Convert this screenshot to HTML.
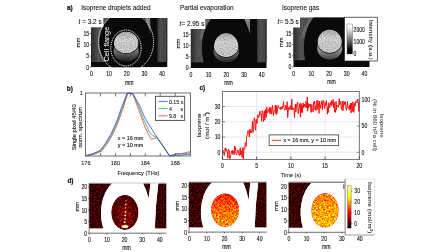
<!DOCTYPE html>
<html><head><meta charset="utf-8"><title>Isoprene imaging figure</title>
<style>
html,body{margin:0;padding:0;background:#fff;}
body{width:448px;height:252px;overflow:hidden;}
svg{display:block;}
text{font-family:"Liberation Sans",sans-serif;fill:#111;stroke:#111;stroke-width:0.12px;}
</style></head><body>
<svg width="448" height="252" viewBox="0 0 448 252">
<defs>
<filter id="gn" x="0" y="0" width="100%" height="100%" color-interpolation-filters="sRGB">
  <feTurbulence type="fractalNoise" baseFrequency="0.7" numOctaves="2" seed="4" result="t"/>
  <feColorMatrix in="t" type="matrix" values="1 0 0 0 0  1 0 0 0 0  1 0 0 0 0  0 0 0 0 1" result="g"/>
  <feComposite in="SourceGraphic" in2="g" operator="arithmetic" k1="0.5" k2="0.75" k3="0" k4="0" result="m"/>
  <feComposite in="m" in2="SourceGraphic" operator="in"/>
</filter>
<filter id="bn" x="0" y="0" width="100%" height="100%" color-interpolation-filters="sRGB">
  <feTurbulence type="fractalNoise" baseFrequency="0.85" numOctaves="2" seed="9" result="t"/>
  <feColorMatrix in="t" type="matrix" values="1 0 0 0 0  1 0 0 0 0  1 0 0 0 0  0 0 0 0 1" result="g"/>
  <feComposite in="SourceGraphic" in2="g" operator="arithmetic" k1="0.55" k2="0.74" k3="0" k4="0" result="m"/>
  <feComposite in="m" in2="SourceGraphic" operator="in"/>
</filter>
<filter id="hotd" x="0" y="0" width="100%" height="100%" color-interpolation-filters="sRGB">
  <feTurbulence type="fractalNoise" baseFrequency="0.65" numOctaves="2" seed="12" result="t"/>
  <feColorMatrix in="t" type="matrix" values="1 0 0 0 0  1 0 0 0 0  1 0 0 0 0  0 0 0 0 1" result="g"/>
  <feComposite in="SourceGraphic" in2="g" operator="arithmetic" k1="0" k2="1" k3="0.38" k4="-0.19" result="v"/>
  <feComponentTransfer in="v" result="c">
    <feFuncR type="table" tableValues="0 0.33 0.67 1 1 1 1 1 1"/>
    <feFuncG type="table" tableValues="0 0 0 0 0.33 0.67 1 1 1"/>
    <feFuncB type="table" tableValues="0 0 0 0 0 0 0 0.5 1"/>
  </feComponentTransfer>
  <feComposite in="c" in2="SourceGraphic" operator="in"/>
</filter>
<filter id="hotb" x="0" y="0" width="100%" height="100%" color-interpolation-filters="sRGB">
  <feTurbulence type="fractalNoise" baseFrequency="0.55" numOctaves="2" seed="21" result="t"/>
  <feColorMatrix in="t" type="matrix" values="1 0 0 0 0  1 0 0 0 0  1 0 0 0 0  0 0 0 0 1" result="g"/>
  <feComposite in="SourceGraphic" in2="g" operator="arithmetic" k1="0" k2="1" k3="0.62" k4="-0.31" result="v"/>
  <feComponentTransfer in="v" result="c">
    <feFuncR type="table" tableValues="0 0.33 0.67 1 1 1 1 1 1"/>
    <feFuncG type="table" tableValues="0 0 0 0 0.33 0.67 1 1 1"/>
    <feFuncB type="table" tableValues="0 0 0 0 0 0 0 0.5 1"/>
  </feComponentTransfer>
  <feComposite in="c" in2="SourceGraphic" operator="in"/>
</filter>
<linearGradient id="gbar" x1="0" y1="0" x2="0" y2="1"><stop offset="0.1" stop-color="#fff"/><stop offset="0.88" stop-color="#000"/></linearGradient>
<linearGradient id="hbar" x1="0" y1="1" x2="0" y2="0">
  <stop offset="0" stop-color="#000"/><stop offset="0.375" stop-color="#f00"/><stop offset="0.75" stop-color="#ff0"/><stop offset="1" stop-color="#ffff90"/>
</linearGradient>
<linearGradient id="blobg" x1="0" y1="0" x2="0" y2="1"><stop offset="0" stop-color="#a0a0a0"/><stop offset="0.35" stop-color="#c6c6c6"/><stop offset="1" stop-color="#bcbcbc"/></linearGradient>
<linearGradient id="rimg" x1="0" y1="0" x2="0" y2="1"><stop offset="0.5" stop-color="#7a7a7a"/><stop offset="0.8" stop-color="#444"/><stop offset="1" stop-color="#222"/></linearGradient>
<linearGradient id="lg" x1="0" y1="0" x2="1" y2="0"><stop offset="0" stop-color="#2a2a2a"/><stop offset="0.25" stop-color="#525252"/><stop offset="1" stop-color="#464646"/></linearGradient>
<linearGradient id="rg" x1="0" y1="0" x2="1" y2="0"><stop offset="0" stop-color="#303030"/><stop offset="0.3" stop-color="#4e4e4e"/><stop offset="0.85" stop-color="#424242"/><stop offset="1" stop-color="#1c1c1c"/></linearGradient>
<linearGradient id="sg" x1="0" y1="0" x2="0" y2="1"><stop offset="0" stop-color="#8a8a8a"/><stop offset="1" stop-color="#4a4a4a"/></linearGradient>
</defs>

<text x="67" y="9.7" font-size="6.5" text-anchor="start" font-weight="bold" style="stroke-width:0.2px">a)</text>
<text x="81.3" y="10.0" font-size="6.43" text-anchor="start" style="stroke-width:0.08px">Isoprene droplets added</text>
<text x="180" y="10.0" font-size="6.43" text-anchor="start" style="stroke-width:0.08px">Partial evaporation</text>
<text x="282" y="10.0" font-size="6.43" text-anchor="start" style="stroke-width:0.08px">Isoprene gas</text>
<clipPath id="ca1"><rect x="91" y="18" width="76.5" height="49.3"/></clipPath>
<clipPath id="tl1"><rect x="91" y="18" width="30" height="20"/></clipPath>
<g clip-path="url(#ca1)">
<rect x="91" y="18" width="76.5" height="49.3" fill="#0a0a0a"/>
<g filter="url(#gn)">
<rect x="91" y="18" width="30" height="44" fill="url(#lg)"/>
<rect x="157.2" y="18" width="10.299999999999997" height="44" fill="url(#rg)"/>
</g>
<ellipse cx="126" cy="42" rx="26.5" ry="30.5" fill="#0a0a0a"/>
<path d="M144.6,18 L150.4,18 L150.9,35 Q148.0,26 144.6,18 Z" fill="url(#sg)" filter="url(#gn)"/>
<defs><linearGradient id="rim1" gradientUnits="userSpaceOnUse" x1="0" y1="50.5" x2="0" y2="61.7"><stop offset="0" stop-color="#747474"/><stop offset="1" stop-color="#1c1c1c"/></linearGradient></defs>
<path d="M113.6,51.7 A12.6,11.9 0 0 1 138.8,51.7 A12.6,10.0 0 0 1 113.6,51.7 Z" fill="url(#rim1)"/>
<path d="M113.9,44.3 A12.3,11.9 0 0 1 138.5,44.3 A12.3,10.0 0 0 1 113.9,44.3 Z" fill="#202020"/>
<g filter="url(#bn)">
<path d="M113.9,43.5 A12.3,11.9 0 0 1 138.5,43.5 A12.3,10.0 0 0 1 113.9,43.5 Z" fill="url(#blobg)"/>
</g>
<ellipse cx="126" cy="42" rx="27.6" ry="30" fill="none" stroke="#fff" stroke-width="1" stroke-dasharray="1.1 0.8"/>
<ellipse cx="126" cy="48" rx="15.2" ry="18" fill="none" stroke="#fff" stroke-width="1" stroke-dasharray="1.1 0.8"/>
<text transform="translate(109.2,61.6) rotate(-90)" font-size="7.4" style="fill:#fff;stroke:none">Cell flange</text>
</g>
<rect x="78" y="16" width="25.299999999999997" height="11.3" fill="#fff"/>
<text transform="translate(78.6,24.2) scale(0.93,1)" font-size="6.9" style="stroke-width:0.1px"><tspan font-style="italic">t</tspan> = 3.2 s</text>
<line x1="89.7" y1="67.3" x2="91" y2="67.3" stroke="#222" stroke-width="0.6"/>
<text transform="translate(89.1,69.5) scale(0.8,1)" font-size="6.4" text-anchor="end">0</text>
<line x1="89.7" y1="56.1" x2="91" y2="56.1" stroke="#222" stroke-width="0.6"/>
<text transform="translate(89.1,58.3) scale(0.8,1)" font-size="6.4" text-anchor="end">5</text>
<line x1="89.7" y1="44.8" x2="91" y2="44.8" stroke="#222" stroke-width="0.6"/>
<text transform="translate(89.1,47.0) scale(0.8,1)" font-size="6.4" text-anchor="end">10</text>
<line x1="89.7" y1="33.6" x2="91" y2="33.6" stroke="#222" stroke-width="0.6"/>
<text transform="translate(89.1,35.8) scale(0.8,1)" font-size="6.4" text-anchor="end">15</text>
<text transform="translate(91.3,76.3) scale(0.8,1)" font-size="6.4" text-anchor="middle">0</text>
<text transform="translate(109.0,76.3) scale(0.8,1)" font-size="6.4" text-anchor="middle">10</text>
<text transform="translate(126.7,76.3) scale(0.8,1)" font-size="6.4" text-anchor="middle">20</text>
<text transform="translate(144.4,76.3) scale(0.8,1)" font-size="6.4" text-anchor="middle">30</text>
<text transform="translate(162.1,76.3) scale(0.8,1)" font-size="6.4" text-anchor="middle">40</text>
<text transform="translate(129.2,84.7) scale(0.8,1)" font-size="6.4" text-anchor="middle">mm</text>
<text transform="translate(80.4,42.6) rotate(-90)" font-size="5.9" text-anchor="middle">mm</text>
<clipPath id="ca2"><rect x="190.6" y="19" width="76.1" height="49"/></clipPath>
<clipPath id="tl2"><rect x="190.6" y="19" width="30" height="20"/></clipPath>
<g clip-path="url(#ca2)">
<rect x="190.6" y="19" width="76.1" height="49" fill="#0a0a0a"/>
<g filter="url(#gn)">
<rect x="190.6" y="19" width="30" height="43.6" fill="url(#lg)"/>
<rect x="256.8" y="19" width="9.899999999999991" height="43.6" fill="url(#rg)"/>
<ellipse cx="226.4" cy="48" rx="26.1" ry="38.5" fill="none" stroke="#686868" stroke-width="3" clip-path="url(#tl2)"/>
</g>
<ellipse cx="226.4" cy="48" rx="24.6" ry="37" fill="#0a0a0a"/>
<path d="M244.2,19 L250.0,19 L250.5,36 Q247.6,27 244.2,19 Z" fill="url(#sg)" filter="url(#gn)"/>
<defs><linearGradient id="rim2" gradientUnits="userSpaceOnUse" x1="0" y1="54.0" x2="0" y2="62.2"><stop offset="0" stop-color="#606060"/><stop offset="1" stop-color="#262626"/></linearGradient></defs>
<path d="M213.6,51.7 A12.6,13.6 0 0 1 238.8,51.7 A12.6,10.5 0 0 1 213.6,51.7 Z" fill="url(#rim2)"/>
<path d="M213.9,47.3 A12.3,13.6 0 0 1 238.5,47.3 A12.3,10.5 0 0 1 213.9,47.3 Z" fill="#202020"/>
<g filter="url(#bn)">
<path d="M213.9,46.5 A12.3,13.6 0 0 1 238.5,46.5 A12.3,10.5 0 0 1 213.9,46.5 Z" fill="url(#blobg)"/>
</g>
</g>
<rect x="179" y="17" width="26.30000000000001" height="12" fill="#fff"/>
<text transform="translate(179.6,25.9) scale(0.93,1)" font-size="6.9" style="stroke-width:0.1px"><tspan font-style="italic">t</tspan>= 2.95 s</text>
<line x1="189.29999999999998" y1="68.0" x2="190.6" y2="68.0" stroke="#222" stroke-width="0.6"/>
<text transform="translate(188.7,70.2) scale(0.8,1)" font-size="6.4" text-anchor="end">0</text>
<line x1="189.29999999999998" y1="56.8" x2="190.6" y2="56.8" stroke="#222" stroke-width="0.6"/>
<text transform="translate(188.7,59.0) scale(0.8,1)" font-size="6.4" text-anchor="end">5</text>
<line x1="189.29999999999998" y1="45.5" x2="190.6" y2="45.5" stroke="#222" stroke-width="0.6"/>
<text transform="translate(188.7,47.8) scale(0.8,1)" font-size="6.4" text-anchor="end">10</text>
<line x1="189.29999999999998" y1="34.3" x2="190.6" y2="34.3" stroke="#222" stroke-width="0.6"/>
<text transform="translate(188.7,36.5) scale(0.8,1)" font-size="6.4" text-anchor="end">15</text>
<text transform="translate(190.9,77.0) scale(0.8,1)" font-size="6.4" text-anchor="middle">0</text>
<text transform="translate(208.6,77.0) scale(0.8,1)" font-size="6.4" text-anchor="middle">10</text>
<text transform="translate(226.3,77.0) scale(0.8,1)" font-size="6.4" text-anchor="middle">20</text>
<text transform="translate(244.0,77.0) scale(0.8,1)" font-size="6.4" text-anchor="middle">30</text>
<text transform="translate(261.7,77.0) scale(0.8,1)" font-size="6.4" text-anchor="middle">40</text>
<text transform="translate(228.6,85.4) scale(0.8,1)" font-size="6.4" text-anchor="middle">mm</text>
<text transform="translate(180.0,43.5) rotate(-90)" font-size="5.9" text-anchor="middle">mm</text>
<clipPath id="ca3"><rect x="293.3" y="17.5" width="76.39999999999998" height="49.5"/></clipPath>
<clipPath id="tl3"><rect x="293.3" y="17.5" width="30" height="20"/></clipPath>
<g clip-path="url(#ca3)">
<rect x="293.3" y="17.5" width="76.39999999999998" height="49.5" fill="#0a0a0a"/>
<g filter="url(#gn)">
<rect x="293.3" y="17.5" width="30" height="43.0" fill="url(#lg)"/>
<ellipse cx="329" cy="48" rx="26.7" ry="40.0" fill="none" stroke="#686868" stroke-width="3" clip-path="url(#tl3)"/>
</g>
<ellipse cx="329" cy="48" rx="25.2" ry="38.5" fill="#0a0a0a"/>
<defs><linearGradient id="rim3" gradientUnits="userSpaceOnUse" x1="0" y1="50.0" x2="0" y2="59.4"><stop offset="0" stop-color="#909090"/><stop offset="1" stop-color="#444"/></linearGradient></defs>
<path d="M317.2,48.4 A12.5,12.4 0 0 1 342.2,48.4 A12.5,11.0 0 0 1 317.2,48.4 Z" fill="url(#rim3)"/>
<path d="M317.5,42.8 A12.2,12.4 0 0 1 341.9,42.8 A12.2,11.0 0 0 1 317.5,42.8 Z" fill="#202020"/>
<g filter="url(#bn)">
<path d="M317.5,42.0 A12.2,12.4 0 0 1 341.9,42.0 A12.2,11.0 0 0 1 317.5,42.0 Z" fill="url(#blobg)"/>
</g>
</g>
<rect x="277" y="15.5" width="23" height="12.0" fill="#fff"/>
<text transform="translate(277.6,24.4) scale(0.93,1)" font-size="6.9" style="stroke-width:0.1px"><tspan font-style="italic">t</tspan>= 5.5 s</text>
<line x1="292.0" y1="67.0" x2="293.3" y2="67.0" stroke="#222" stroke-width="0.6"/>
<text transform="translate(291.4,69.2) scale(0.8,1)" font-size="6.4" text-anchor="end">0</text>
<line x1="292.0" y1="55.8" x2="293.3" y2="55.8" stroke="#222" stroke-width="0.6"/>
<text transform="translate(291.4,58.0) scale(0.8,1)" font-size="6.4" text-anchor="end">5</text>
<line x1="292.0" y1="44.5" x2="293.3" y2="44.5" stroke="#222" stroke-width="0.6"/>
<text transform="translate(291.4,46.8) scale(0.8,1)" font-size="6.4" text-anchor="end">10</text>
<line x1="292.0" y1="33.3" x2="293.3" y2="33.3" stroke="#222" stroke-width="0.6"/>
<text transform="translate(291.4,35.5) scale(0.8,1)" font-size="6.4" text-anchor="end">15</text>
<text transform="translate(293.6,76.0) scale(0.8,1)" font-size="6.4" text-anchor="middle">0</text>
<text transform="translate(311.3,76.0) scale(0.8,1)" font-size="6.4" text-anchor="middle">10</text>
<text transform="translate(329.0,76.0) scale(0.8,1)" font-size="6.4" text-anchor="middle">20</text>
<text transform="translate(346.7,76.0) scale(0.8,1)" font-size="6.4" text-anchor="middle">30</text>
<text transform="translate(364.4,76.0) scale(0.8,1)" font-size="6.4" text-anchor="middle">40</text>
<text transform="translate(331.5,84.4) scale(0.8,1)" font-size="6.4" text-anchor="middle">mm</text>
<text transform="translate(282.7,42.2) rotate(-90)" font-size="5.9" text-anchor="middle">mm</text>
<rect x="344.5" y="17.2" width="32.8" height="43.8" fill="#fff" stroke="#222" stroke-width="0.7"/>
<rect x="347" y="24" width="5.5" height="30" fill="url(#gbar)" stroke="#555" stroke-width="0.4"/>
<text transform="translate(353.6,32.4) scale(0.8,1)" font-size="6.4" text-anchor="start">2000</text>
<text transform="translate(353.6,43.9) scale(0.8,1)" font-size="6.4" text-anchor="start">1000</text>
<text transform="translate(353.6,56.2) scale(0.8,1)" font-size="6.4" text-anchor="start">0</text>
<text transform="translate(369.3,19.4) rotate(90)" font-size="5.9" letter-spacing="0.2" style="stroke-width:0.05px">Intensity (a.u.)</text>
<text x="66.8" y="91.0" font-size="6.5" text-anchor="start" font-weight="bold" style="stroke-width:0.2px">b)</text>
<rect x="85.6" y="93" width="104.80000000000001" height="63" fill="#fff" stroke="#333" stroke-width="0.7"/>
<line x1="100.5" y1="93" x2="100.5" y2="96.4" stroke="#222" stroke-width="0.6"/>
<line x1="100.5" y1="156" x2="100.5" y2="153.0" stroke="#222" stroke-width="0.6"/>
<line x1="115.5" y1="93" x2="115.5" y2="96.4" stroke="#222" stroke-width="0.6"/>
<line x1="115.5" y1="156" x2="115.5" y2="153.0" stroke="#222" stroke-width="0.6"/>
<line x1="130.4" y1="93" x2="130.4" y2="96.4" stroke="#222" stroke-width="0.6"/>
<line x1="130.4" y1="156" x2="130.4" y2="153.0" stroke="#222" stroke-width="0.6"/>
<line x1="145.3" y1="93" x2="145.3" y2="96.4" stroke="#222" stroke-width="0.6"/>
<line x1="145.3" y1="156" x2="145.3" y2="153.0" stroke="#222" stroke-width="0.6"/>
<line x1="160.2" y1="93" x2="160.2" y2="96.4" stroke="#222" stroke-width="0.6"/>
<line x1="160.2" y1="156" x2="160.2" y2="153.0" stroke="#222" stroke-width="0.6"/>
<line x1="175.2" y1="93" x2="175.2" y2="96.4" stroke="#222" stroke-width="0.6"/>
<line x1="175.2" y1="156" x2="175.2" y2="153.0" stroke="#222" stroke-width="0.6"/>
<text x="85.9" y="165.4" font-size="5.5" text-anchor="middle" style="stroke-width:0.08px">176</text>
<text x="115.4" y="165.4" font-size="5.5" text-anchor="middle" style="stroke-width:0.08px">180</text>
<text x="145.3" y="165.4" font-size="5.5" text-anchor="middle" style="stroke-width:0.08px">184</text>
<text x="175.2" y="165.4" font-size="5.5" text-anchor="middle" style="stroke-width:0.08px">188</text>
<text x="82.8" y="95.0" font-size="5.5" text-anchor="end" style="stroke-width:0.08px">1</text>
<text x="138.4" y="174.8" font-size="5.6" text-anchor="middle" style="stroke-width:0.06px">Frequency (THz)</text>
<text transform="translate(76.1,127.3) rotate(-90)" font-size="5.85" style="stroke-width:0.08px" text-anchor="middle">Single pixel 45/40</text>
<text transform="translate(81.9,127.3) rotate(-90)" font-size="5.85" style="stroke-width:0.08px" text-anchor="middle">norm. spectrum</text>
<polyline fill="none" stroke="#f03030" stroke-width="0.75" stroke-linejoin="round" points="87.2,156.1 94.6,154.2 101.6,151.1 106.6,144.6 112.6,134.6 118.0,122.6 122.6,109.6 127.8,93.3 130.0,93.3 132.7,94.0 137.3,106.0 141.7,118.0 145.5,128.5 151.2,139.3 157.0,137.6 165.6,150.0 169.4,155.8 175.0,155.2 190.3,151.5"/>
<polyline fill="none" stroke="#20a030" stroke-width="0.75" stroke-linejoin="round" points="86.4,155.8 93.8,153.9 100.8,150.8 105.8,144.3 111.8,134.3 117.2,122.3 121.8,109.3 127.4,93.2 130.0,93.4 132.9,93.6 138.5,106.0 143.0,118.0 149.3,132.0 152.5,135.5 157.0,137.5 165.5,150.0 169.3,155.8 182.0,155.6 190.3,152.3"/>
<polyline fill="none" stroke="#2040ff" stroke-width="0.75" stroke-linejoin="round" points="85.6,155.5 93.0,153.6 100.0,150.5 105.0,144.0 111.0,134.0 116.4,122.0 121.0,109.0 127.0,93.3 130.0,93.2 133.0,94.0 139.9,106.0 144.9,118.0 157.0,137.3 165.8,150.0 169.6,155.8 177.2,153.6 190.3,154.5"/>
<text x="117.8" y="139.6" font-size="5.45" text-anchor="start">x = 16 mm</text>
<text x="117.8" y="147.2" font-size="5.45" text-anchor="start">y = 10 mm</text>
<rect x="155.5" y="96.3" width="29.2" height="24.1" fill="#fff" stroke="#444" stroke-width="0.9"/>
<line x1="158.4" y1="101.4" x2="167.7" y2="101.4" stroke="#2040ff" stroke-width="0.75"/>
<text transform="translate(168.9,103.6) scale(0.86,1)" font-size="6.2" style="stroke-width:0.08px">0.15 s</text>
<line x1="158.4" y1="108.6" x2="167.7" y2="108.6" stroke="#20a030" stroke-width="0.75"/>
<text transform="translate(168.9,110.8) scale(0.86,1)" font-size="6.2" style="stroke-width:0.08px">4</text>
<text transform="translate(180.6,110.8) scale(0.86,1)" font-size="6.2" style="stroke-width:0.08px">s</text>
<line x1="158.4" y1="115.8" x2="167.7" y2="115.8" stroke="#f03030" stroke-width="0.75"/>
<text transform="translate(168.9,118.0) scale(0.86,1)" font-size="6.2" style="stroke-width:0.08px">9.8</text>
<text transform="translate(180.6,118.0) scale(0.86,1)" font-size="6.2" style="stroke-width:0.08px">s</text>
<text x="199.5" y="89.7" font-size="6.5" text-anchor="start" font-weight="bold" style="stroke-width:0.2px">c)</text>
<rect x="222.4" y="91.6" width="136.9" height="67.80000000000001" fill="#fff"/>
<line x1="222.4" y1="152.2" x2="359.3" y2="152.2" stroke="#d4d4f6" stroke-width="0.6"/>
<line x1="222.4" y1="137.0" x2="359.3" y2="137.0" stroke="#d4d4f6" stroke-width="0.6"/>
<line x1="222.4" y1="121.8" x2="359.3" y2="121.8" stroke="#d4d4f6" stroke-width="0.6"/>
<line x1="222.4" y1="106.6" x2="359.3" y2="106.6" stroke="#d4d4f6" stroke-width="0.6"/>
<line x1="256.6" y1="91.6" x2="256.6" y2="159.4" stroke="#d4d4f6" stroke-width="0.6"/>
<line x1="290.9" y1="91.6" x2="290.9" y2="159.4" stroke="#d4d4f6" stroke-width="0.6"/>
<line x1="325.1" y1="91.6" x2="325.1" y2="159.4" stroke="#d4d4f6" stroke-width="0.6"/>
<polyline fill="none" stroke="#ff0000" stroke-width="0.9" stroke-linejoin="round" points="222.4,153.1 222.9,150.3 223.3,153.0 223.8,153.3 224.2,155.6 224.7,153.0 225.1,148.1 225.6,150.7 226.1,148.4 226.5,151.3 227.0,150.8 227.4,151.5 227.9,158.3 228.3,149.1 228.8,150.4 229.2,150.4 229.7,158.4 230.2,158.6 230.6,155.4 231.1,153.9 231.5,151.1 232.0,152.4 232.4,150.3 232.9,154.5 233.4,151.1 233.8,150.8 234.3,154.6 234.7,145.9 235.2,150.2 235.6,147.8 236.1,154.5 236.5,154.9 237.0,153.5 237.5,152.6 237.9,149.9 238.4,151.3 238.8,153.8 239.3,155.7 239.7,154.1 240.2,147.7 240.7,155.1 241.1,151.3 241.6,150.6 242.0,157.6 242.5,152.0 242.9,147.4 243.4,159.0 243.8,150.9 244.3,148.3 244.8,149.1 245.2,142.6 245.7,143.0 246.1,146.6 246.6,136.8 247.0,136.0 247.5,133.6 248.0,130.5 248.4,133.3 248.9,133.0 249.3,137.0 249.8,129.0 250.2,132.5 250.7,130.9 251.1,133.0 251.6,131.0 252.1,128.6 252.5,121.1 253.0,132.5 253.4,129.6 253.9,122.8 254.3,117.7 254.8,120.2 255.3,128.6 255.7,130.3 256.2,119.3 256.6,122.7 257.1,123.6 257.5,115.5 258.0,114.6 258.5,117.6 258.9,116.8 259.4,115.7 259.8,111.1 260.3,114.3 260.7,114.3 261.2,113.9 261.6,121.3 262.1,110.5 262.6,111.4 263.0,112.7 263.5,121.6 263.9,116.4 264.4,110.8 264.8,120.2 265.3,114.0 265.8,109.4 266.2,117.7 266.7,106.9 267.1,110.5 267.6,112.9 268.0,111.0 268.5,109.6 268.9,111.4 269.4,107.5 269.9,113.9 270.3,112.9 270.8,107.4 271.2,111.0 271.7,114.2 272.1,107.4 272.6,105.4 273.1,112.2 273.5,115.5 274.0,110.9 274.4,110.8 274.9,111.3 275.3,105.0 275.8,113.7 276.2,105.3 276.7,114.4 277.2,112.6 277.6,107.4 278.1,105.5 278.5,106.4 279.0,108.2 279.4,108.8 279.9,108.7 280.4,107.1 280.8,109.8 281.3,108.1 281.7,106.9 282.2,109.0 282.6,106.1 283.1,106.8 283.5,101.5 284.0,107.5 284.5,110.2 284.9,110.0 285.4,108.6 285.8,105.2 286.3,109.7 286.7,107.0 287.2,101.7 287.7,117.7 288.1,112.4 288.6,107.4 289.0,106.8 289.5,107.3 289.9,109.7 290.4,105.7 290.9,107.0 291.3,109.9 291.8,99.1 292.2,106.6 292.7,109.9 293.1,108.2 293.6,108.6 294.0,108.0 294.5,117.7 295.0,109.5 295.4,104.0 295.9,111.9 296.3,107.9 296.8,104.1 297.2,104.4 297.7,102.1 298.2,113.7 298.6,108.7 299.1,108.7 299.5,105.1 300.0,103.4 300.4,117.1 300.9,103.3 301.3,112.6 301.8,104.8 302.3,112.7 302.7,106.5 303.2,102.8 303.6,107.7 304.1,106.4 304.5,104.2 305.0,106.5 305.5,107.3 305.9,101.4 306.4,103.1 306.8,108.0 307.3,96.9 307.7,111.1 308.2,103.5 308.6,107.8 309.1,106.3 309.6,104.2 310.0,105.9 310.5,104.4 310.9,112.3 311.4,112.2 311.8,104.4 312.3,110.1 312.8,110.3 313.2,111.9 313.7,101.9 314.1,103.8 314.6,101.1 315.0,109.9 315.5,106.4 315.9,110.5 316.4,103.6 316.9,100.5 317.3,109.6 317.8,100.6 318.2,102.7 318.7,106.9 319.1,113.4 319.6,101.0 320.1,106.5 320.5,108.3 321.0,104.6 321.4,104.6 321.9,100.6 322.3,109.7 322.8,101.9 323.2,100.5 323.7,100.6 324.2,106.6 324.6,108.6 325.1,102.2 325.5,105.4 326.0,105.4 326.4,100.6 326.9,106.7 327.4,114.1 327.8,107.1 328.3,112.5 328.7,102.7 329.2,104.5 329.6,107.8 330.1,105.6 330.6,102.5 331.0,105.2 331.5,100.7 331.9,105.7 332.4,101.7 332.8,100.0 333.3,99.5 333.7,107.8 334.2,102.1 334.7,112.2 335.1,109.3 335.6,112.4 336.0,101.4 336.5,109.7 336.9,105.2 337.4,105.9 337.9,105.3 338.3,107.3 338.8,104.2 339.2,98.5 339.7,104.9 340.1,103.1 340.6,101.3 341.0,105.7 341.5,109.5 342.0,106.9 342.4,101.0 342.9,110.9 343.3,107.0 343.8,101.1 344.2,101.9 344.7,104.7 345.2,101.8 345.6,104.1 346.1,109.0 346.5,110.4 347.0,107.0 347.4,101.3 347.9,106.7 348.3,107.9 348.8,107.4 349.3,110.1 349.7,104.9 350.2,108.8 350.6,103.1 351.1,113.0 351.5,103.2 352.0,106.7 352.5,111.4 352.9,101.7 353.4,105.3 353.8,112.4 354.3,107.4 354.7,103.2 355.2,105.9 355.6,101.3 356.1,101.4 356.6,101.7 357.0,102.9 357.5,99.2 357.9,101.6 358.4,102.4 358.8,111.6 359.3,100.7"/>
<rect x="222.4" y="91.6" width="136.9" height="67.80000000000001" fill="none" stroke="#555" stroke-width="0.8"/>
<line x1="222.4" y1="152.2" x2="225.0" y2="152.2" stroke="#333" stroke-width="0.6"/>
<text transform="translate(220.4,154.5) scale(0.8,1)" font-size="6.4" text-anchor="end">0</text>
<line x1="222.4" y1="137.0" x2="225.0" y2="137.0" stroke="#333" stroke-width="0.6"/>
<text transform="translate(220.4,139.3) scale(0.8,1)" font-size="6.4" text-anchor="end">10</text>
<line x1="222.4" y1="121.8" x2="225.0" y2="121.8" stroke="#333" stroke-width="0.6"/>
<text transform="translate(220.4,124.1) scale(0.8,1)" font-size="6.4" text-anchor="end">20</text>
<line x1="222.4" y1="106.6" x2="225.0" y2="106.6" stroke="#333" stroke-width="0.6"/>
<text transform="translate(220.4,108.9) scale(0.8,1)" font-size="6.4" text-anchor="end">30</text>
<line x1="359.3" y1="99.9" x2="356.7" y2="99.9" stroke="#333" stroke-width="0.6"/>
<text transform="translate(361.6,102.2) scale(0.8,1)" font-size="6.4" text-anchor="start">100</text>
<line x1="359.3" y1="126.1" x2="356.7" y2="126.1" stroke="#333" stroke-width="0.6"/>
<text transform="translate(361.6,128.4) scale(0.8,1)" font-size="6.4" text-anchor="start">50</text>
<line x1="359.3" y1="152.3" x2="356.7" y2="152.3" stroke="#333" stroke-width="0.6"/>
<text transform="translate(361.6,154.6) scale(0.8,1)" font-size="6.4" text-anchor="start">0</text>
<line x1="222.4" y1="159.4" x2="222.4" y2="156.6" stroke="#222" stroke-width="0.7"/>
<text transform="translate(222.4,168.3) scale(0.8,1)" font-size="6.4" text-anchor="middle">0</text>
<line x1="256.6" y1="159.4" x2="256.6" y2="156.6" stroke="#222" stroke-width="0.7"/>
<text transform="translate(256.6,168.3) scale(0.8,1)" font-size="6.4" text-anchor="middle">5</text>
<line x1="290.9" y1="159.4" x2="290.9" y2="156.6" stroke="#222" stroke-width="0.7"/>
<text transform="translate(290.9,168.3) scale(0.8,1)" font-size="6.4" text-anchor="middle">10</text>
<line x1="325.1" y1="159.4" x2="325.1" y2="156.6" stroke="#222" stroke-width="0.7"/>
<text transform="translate(325.1,168.3) scale(0.8,1)" font-size="6.4" text-anchor="middle">15</text>
<line x1="359.3" y1="159.4" x2="359.3" y2="156.6" stroke="#222" stroke-width="0.7"/>
<text transform="translate(359.3,168.3) scale(0.8,1)" font-size="6.4" text-anchor="middle">20</text>
<text x="291" y="177.3" font-size="5.6" text-anchor="middle" style="stroke-width:0.06px">Time (s)</text>
<text transform="translate(201.4,125.5) rotate(-90)" font-size="6.2" style="stroke-width:0.08px" text-anchor="middle">Isoprene</text>
<text transform="translate(208.6,125.5) rotate(-90)" font-size="6.2" style="stroke-width:0.08px" text-anchor="middle">(mol / m<tspan dy="-2.2" font-size="4.2">3</tspan><tspan dy="2.2">)</tspan></text>
<text transform="translate(379.6,113.6) rotate(90)" font-size="6.2" style="stroke:none;fill:#222">Isoprene</text>
<text transform="translate(372.6,99) rotate(90)" font-size="6.2" style="stroke:none;fill:#222">(% in 860 hPa cell)</text>
<rect x="269.1" y="134.9" width="69.6" height="10.8" fill="#fff" stroke="#222" stroke-width="0.7"/>
<line x1="271.7" y1="140.3" x2="281.3" y2="140.3" stroke="#ff0000" stroke-width="0.85"/>
<text x="283.5" y="142.2" font-size="5.3" text-anchor="start">x = 16 mm, y = 10 mm</text>
<text x="67.4" y="182.8" font-size="6.5" text-anchor="start" font-weight="bold" style="stroke-width:0.2px">d)</text>
<clipPath id="cd1"><rect x="89.1" y="183.2" width="77.5" height="50.0"/></clipPath>
<g clip-path="url(#cd1)">
<g filter="url(#hotd)">
<path fill="#161616" d="M89.1,183.2 L112.0,183.2 A25,36 0 0,0 103.3,228.6 L89.1,228.6 Z"/>
<path fill="#161616" d="M143.0,183.2 L150.4,183.2 L148.6,198.2 Q146.4,189.2 143.0,183.2 Z"/>
<path fill="#161616" d="M158.4,183.2 L166.6,183.2 L166.6,228.6 L154.9,228.6 Q155.5,205.2 158.4,183.2 Z"/>
<ellipse cx="124.9" cy="212.5" rx="13.6" ry="17.4" fill="#202020"/>
</g>
<g filter="url(#hotb)">
<ellipse cx="124.9" cy="216.2" rx="8" ry="12.5" fill="#2e2e2e"/>
</g>
<circle cx="126.0" cy="200.7" r="0.8" fill="#ff9000"/>
<circle cx="125.8" cy="204.4" r="0.9" fill="#ffd060"/>
<circle cx="125.6" cy="207.9" r="0.8" fill="#ffa030"/>
<circle cx="125.4" cy="211.9" r="0.9" fill="#ffe890"/>
<circle cx="125.2" cy="215.4" r="0.9" fill="#ffffff"/>
<circle cx="125.0" cy="218.9" r="0.9" fill="#ffc850"/>
<circle cx="124.7" cy="222.2" r="0.9" fill="#fff0b0"/>
<ellipse cx="125.0" cy="226.5" rx="3.3" ry="1.5" fill="#fff" stroke="#ffb030" stroke-width="0.6"/>
</g>
<line x1="89.1" y1="183.2" x2="89.1" y2="233.2" stroke="#333" stroke-width="0.6"/>
<line x1="89.1" y1="233.2" x2="166.6" y2="233.2" stroke="#4a4a4a" stroke-width="0.8"/>
<line x1="87.9" y1="233.2" x2="89.1" y2="233.2" stroke="#222" stroke-width="0.6"/>
<text transform="translate(87.2,235.6) scale(0.8,1)" font-size="6.4" text-anchor="end">0</text>
<line x1="87.9" y1="221.6" x2="89.1" y2="221.6" stroke="#222" stroke-width="0.6"/>
<text transform="translate(87.2,224.0) scale(0.8,1)" font-size="6.4" text-anchor="end">5</text>
<line x1="87.9" y1="210.1" x2="89.1" y2="210.1" stroke="#222" stroke-width="0.6"/>
<text transform="translate(87.2,212.5) scale(0.8,1)" font-size="6.4" text-anchor="end">10</text>
<line x1="87.9" y1="198.5" x2="89.1" y2="198.5" stroke="#222" stroke-width="0.6"/>
<text transform="translate(87.2,200.9) scale(0.8,1)" font-size="6.4" text-anchor="end">15</text>
<line x1="87.9" y1="187.0" x2="89.1" y2="187.0" stroke="#222" stroke-width="0.6"/>
<text transform="translate(87.2,189.4) scale(0.8,1)" font-size="6.4" text-anchor="end">20</text>
<line x1="89.4" y1="233.2" x2="89.4" y2="234.39999999999998" stroke="#222" stroke-width="0.6"/>
<text transform="translate(89.4,242.1) scale(0.8,1)" font-size="6.4" text-anchor="middle">0</text>
<line x1="107.0" y1="233.2" x2="107.0" y2="234.39999999999998" stroke="#222" stroke-width="0.6"/>
<text transform="translate(107.0,242.1) scale(0.8,1)" font-size="6.4" text-anchor="middle">10</text>
<line x1="124.6" y1="233.2" x2="124.6" y2="234.39999999999998" stroke="#222" stroke-width="0.6"/>
<text transform="translate(124.6,242.1) scale(0.8,1)" font-size="6.4" text-anchor="middle">20</text>
<line x1="142.2" y1="233.2" x2="142.2" y2="234.39999999999998" stroke="#222" stroke-width="0.6"/>
<text transform="translate(142.2,242.1) scale(0.8,1)" font-size="6.4" text-anchor="middle">30</text>
<line x1="159.8" y1="233.2" x2="159.8" y2="234.39999999999998" stroke="#222" stroke-width="0.6"/>
<text transform="translate(159.8,242.1) scale(0.8,1)" font-size="6.4" text-anchor="middle">40</text>
<text transform="translate(126.6,249.8) scale(0.8,1)" font-size="6.4" text-anchor="middle">mm</text>
<text transform="translate(78.6,206.7) rotate(-90)" font-size="5.9" text-anchor="middle">mm</text>
<line x1="89.1" y1="183" x2="166.6" y2="183" stroke="#aaa" stroke-width="0.6"/>
<clipPath id="cd2"><rect x="189" y="182.3" width="77.69999999999999" height="49.79999999999998"/></clipPath>
<g clip-path="url(#cd2)">
<g filter="url(#hotd)">
<path fill="#161616" d="M189,182.3 L211.9,182.3 A25,36 0 0,0 203.2,227.5 L189,227.5 Z"/>
<path fill="#161616" d="M242.9,182.3 L250.3,182.3 L248.5,200.0 Q246.3,188.3 242.9,182.3 Z"/>
<path fill="#161616" d="M258.3,182.3 L266.7,182.3 L266.7,227.5 L254.8,227.5 Q255.4,204.3 258.3,182.3 Z"/>
</g>
<g filter="url(#hotb)">
<defs><linearGradient id="og2" x1="0" y1="0" x2="0" y2="1"><stop offset="0" stop-color="#666"/><stop offset="0.5" stop-color="#888"/><stop offset="1" stop-color="#989898"/></linearGradient></defs>
<ellipse cx="225.1" cy="210.1" rx="14" ry="16.7" fill="url(#og2)"/>
</g>
</g>
<line x1="189" y1="182.3" x2="189" y2="232.1" stroke="#333" stroke-width="0.6"/>
<line x1="189" y1="232.1" x2="266.7" y2="232.1" stroke="#4a4a4a" stroke-width="0.8"/>
<line x1="187.8" y1="232.1" x2="189" y2="232.1" stroke="#222" stroke-width="0.6"/>
<text transform="translate(187.1,234.5) scale(0.8,1)" font-size="6.4" text-anchor="end">0</text>
<line x1="187.8" y1="220.5" x2="189" y2="220.5" stroke="#222" stroke-width="0.6"/>
<text transform="translate(187.1,222.9) scale(0.8,1)" font-size="6.4" text-anchor="end">5</text>
<line x1="187.8" y1="209.0" x2="189" y2="209.0" stroke="#222" stroke-width="0.6"/>
<text transform="translate(187.1,211.4) scale(0.8,1)" font-size="6.4" text-anchor="end">10</text>
<line x1="187.8" y1="197.4" x2="189" y2="197.4" stroke="#222" stroke-width="0.6"/>
<text transform="translate(187.1,199.8) scale(0.8,1)" font-size="6.4" text-anchor="end">15</text>
<line x1="187.8" y1="185.9" x2="189" y2="185.9" stroke="#222" stroke-width="0.6"/>
<text transform="translate(187.1,188.3) scale(0.8,1)" font-size="6.4" text-anchor="end">20</text>
<line x1="189.3" y1="232.1" x2="189.3" y2="233.29999999999998" stroke="#222" stroke-width="0.6"/>
<text transform="translate(189.3,241.0) scale(0.8,1)" font-size="6.4" text-anchor="middle">0</text>
<line x1="206.9" y1="232.1" x2="206.9" y2="233.29999999999998" stroke="#222" stroke-width="0.6"/>
<text transform="translate(206.9,241.0) scale(0.8,1)" font-size="6.4" text-anchor="middle">10</text>
<line x1="224.5" y1="232.1" x2="224.5" y2="233.29999999999998" stroke="#222" stroke-width="0.6"/>
<text transform="translate(224.5,241.0) scale(0.8,1)" font-size="6.4" text-anchor="middle">20</text>
<line x1="242.1" y1="232.1" x2="242.1" y2="233.29999999999998" stroke="#222" stroke-width="0.6"/>
<text transform="translate(242.1,241.0) scale(0.8,1)" font-size="6.4" text-anchor="middle">30</text>
<line x1="259.7" y1="232.1" x2="259.7" y2="233.29999999999998" stroke="#222" stroke-width="0.6"/>
<text transform="translate(259.7,241.0) scale(0.8,1)" font-size="6.4" text-anchor="middle">40</text>
<text transform="translate(226.5,248.7) scale(0.8,1)" font-size="6.4" text-anchor="middle">mm</text>
<text transform="translate(178.5,205.8) rotate(-90)" font-size="5.9" text-anchor="middle">mm</text>
<line x1="189" y1="182.2" x2="266.7" y2="182.2" stroke="#333" stroke-width="0.6"/>
<clipPath id="cd3"><rect x="288.7" y="182.6" width="56.30000000000001" height="49.70000000000002"/></clipPath>
<g clip-path="url(#cd3)">
<g filter="url(#hotd)">
<path fill="#161616" d="M288.7,182.6 L311.6,182.6 A25,36 0 0,0 302.9,227.7 L288.7,227.7 Z"/>
</g>
<g filter="url(#hotb)">
<defs><linearGradient id="og3" x1="0" y1="0" x2="0" y2="1"><stop offset="0" stop-color="#8a8a8a"/><stop offset="0.4" stop-color="#9c9c9c"/><stop offset="1" stop-color="#a4a4a4"/></linearGradient></defs>
<ellipse cx="325.0" cy="210.4" rx="13.6" ry="17.2" fill="url(#og3)"/>
</g>
</g>
<line x1="288.7" y1="182.6" x2="288.7" y2="232.3" stroke="#333" stroke-width="0.6"/>
<line x1="288.7" y1="232.3" x2="345" y2="232.3" stroke="#4a4a4a" stroke-width="0.8"/>
<line x1="287.5" y1="232.3" x2="288.7" y2="232.3" stroke="#222" stroke-width="0.6"/>
<text transform="translate(286.8,234.7) scale(0.8,1)" font-size="6.4" text-anchor="end">0</text>
<line x1="287.5" y1="220.8" x2="288.7" y2="220.8" stroke="#222" stroke-width="0.6"/>
<text transform="translate(286.8,223.2) scale(0.8,1)" font-size="6.4" text-anchor="end">5</text>
<line x1="287.5" y1="209.2" x2="288.7" y2="209.2" stroke="#222" stroke-width="0.6"/>
<text transform="translate(286.8,211.6) scale(0.8,1)" font-size="6.4" text-anchor="end">10</text>
<line x1="287.5" y1="197.7" x2="288.7" y2="197.7" stroke="#222" stroke-width="0.6"/>
<text transform="translate(286.8,200.1) scale(0.8,1)" font-size="6.4" text-anchor="end">15</text>
<line x1="287.5" y1="186.1" x2="288.7" y2="186.1" stroke="#222" stroke-width="0.6"/>
<text transform="translate(286.8,188.5) scale(0.8,1)" font-size="6.4" text-anchor="end">20</text>
<line x1="289.0" y1="232.3" x2="289.0" y2="233.5" stroke="#222" stroke-width="0.6"/>
<text transform="translate(289.0,241.2) scale(0.8,1)" font-size="6.4" text-anchor="middle">0</text>
<line x1="306.6" y1="232.3" x2="306.6" y2="233.5" stroke="#222" stroke-width="0.6"/>
<text transform="translate(306.6,241.2) scale(0.8,1)" font-size="6.4" text-anchor="middle">10</text>
<line x1="324.2" y1="232.3" x2="324.2" y2="233.5" stroke="#222" stroke-width="0.6"/>
<text transform="translate(324.2,241.2) scale(0.8,1)" font-size="6.4" text-anchor="middle">20</text>
<line x1="341.8" y1="232.3" x2="341.8" y2="233.5" stroke="#222" stroke-width="0.6"/>
<text transform="translate(341.8,241.2) scale(0.8,1)" font-size="6.4" text-anchor="middle">30</text>
<text transform="translate(326.2,248.9) scale(0.8,1)" font-size="6.4" text-anchor="middle">mm</text>
<text transform="translate(278.2,206.1) rotate(-90)" font-size="5.9" text-anchor="middle">mm</text>
<line x1="288.7" y1="182.2" x2="345" y2="182.2" stroke="#444" stroke-width="0.9"/>
<rect x="343.3" y="184.3" width="1.1" height="4.6" fill="#6a3030"/>
<rect x="345.1" y="179" width="29.3" height="56" fill="#fff" stroke="#ccc" stroke-width="0.5"/>
<line x1="345.1" y1="179" x2="345.1" y2="235" stroke="#777" stroke-width="0.8"/>
<line x1="345.1" y1="235" x2="374.4" y2="235" stroke="#888" stroke-width="0.7"/>
<rect x="347.5" y="185.8" width="3.6" height="42.3" fill="url(#hbar)" stroke="#555" stroke-width="0.4"/>
<line x1="351.1" y1="223.4" x2="352.4" y2="223.4" stroke="#222" stroke-width="0.5"/>
<text transform="translate(354.3,225.6) scale(0.8,1)" font-size="6.4" text-anchor="start">0</text>
<line x1="351.1" y1="212.7" x2="352.4" y2="212.7" stroke="#222" stroke-width="0.5"/>
<text transform="translate(354.3,214.8) scale(0.8,1)" font-size="6.4" text-anchor="start">10</text>
<line x1="351.1" y1="201.9" x2="352.4" y2="201.9" stroke="#222" stroke-width="0.5"/>
<text transform="translate(354.3,204.1) scale(0.8,1)" font-size="6.4" text-anchor="start">20</text>
<line x1="351.1" y1="191.2" x2="352.4" y2="191.2" stroke="#222" stroke-width="0.5"/>
<text transform="translate(354.3,193.3) scale(0.8,1)" font-size="6.4" text-anchor="start">30</text>
<text transform="translate(367.6,182) rotate(90)" font-size="6.0" letter-spacing="0.22" style="stroke-width:0.05px">Isoprene (mol/m<tspan dy="-2.8" font-size="4.4">3</tspan><tspan dy="2.8">)</tspan></text>
<text transform="translate(359.8,241.2) scale(0.8,1)" font-size="6.4" text-anchor="middle">40</text>
</svg></body></html>
